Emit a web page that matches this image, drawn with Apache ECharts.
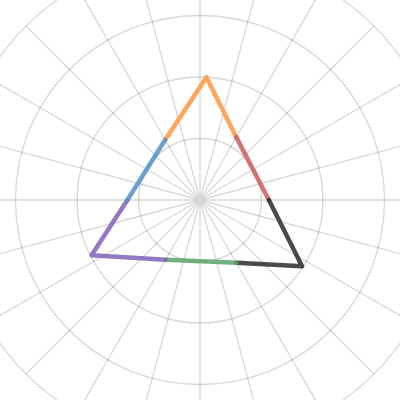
<!DOCTYPE html>
<html>
<head>
<meta charset="utf-8">
<script src="https://cdn.jsdelivr.net/npm/echarts@6/dist/echarts.min.js"></script>
<style>
  html, body { margin: 0; padding: 0; background: #fff; }
  #main { width: 400px; height: 400px; }
</style>
</head>
<body>
<div id="main"></div>
<script>
// 每段边：[半径, 角度(度)]，角度 0 在右侧，逆时针增大
const orangeSeg = [[1.13, 120], [2.0, 87], [1.18, 60]];
const redSeg = [[1.18, 60], [1.12, 0]];
const blackSeg = [[1.12, 360], [1.98, 327], [1.18, 300]];
const greenSeg = [[1.18, 300], [1.12, 240]];
const purpleSeg = [[1.12, 240], [1.98, 207], [1.18, 180]];
const blueSeg = [[1.18, 180], [1.13, 120]];

const segColors = ['#ff9640', '#cc5c5c', '#2a2a2a', '#5aa46a', '#7f62b8', '#5590c4'];
const segments = [orangeSeg, redSeg, blackSeg, greenSeg, purpleSeg, blueSeg];

const chart = echarts.init(document.getElementById('main'));

const gridLine = {
  show: true,
  lineStyle: { color: 'rgba(0,0,0,0.16)', width: 1.3 }
};

chart.setOption({
  animation: false,
  backgroundColor: '#fff',
  polar: {
    center: ['50%', '50%'],
    radius: 246
  },
  angleAxis: {
    type: 'value',
    min: 0,
    max: 360,
    interval: 15,
    startAngle: 0,
    clockwise: false,
    axisLine: { show: false },
    axisTick: { show: false },
    axisLabel: { show: false },
    splitLine: gridLine
  },
  radiusAxis: {
    type: 'value',
    min: 0,
    max: 4,
    interval: 1,
    axisLine: { show: false },
    axisTick: { show: false },
    axisLabel: { show: false },
    splitLine: gridLine
  },
  series: segments.map((seg, i) => ({
    type: 'line',
    coordinateSystem: 'polar',
    data: seg,
    showSymbol: false,
    lineStyle: {
      color: segColors[i],
      width: 4.5,
      opacity: 0.85,
      cap: 'round',
      join: 'round'
    }
  }))
});
</script>
</body>
</html>
